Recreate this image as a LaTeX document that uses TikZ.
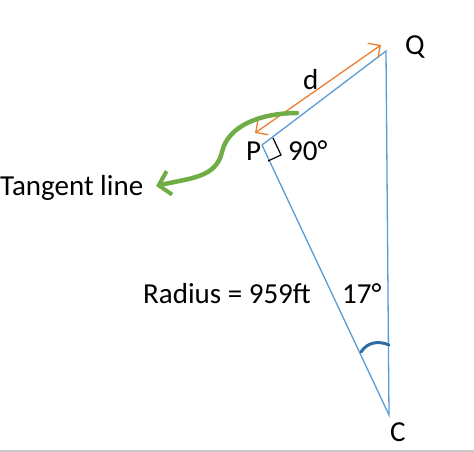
\documentclass[tikz,border=0pt]{standalone}
\usepackage{fontspec}
\setmainfont{Carlito}
\usetikzlibrary{arrows.meta}
\definecolor{tblue}{HTML}{5B9BD5}
\definecolor{torange}{HTML}{ED7D31}
\definecolor{tgreen}{HTML}{70AD47}
\definecolor{tdark}{HTML}{2E6CA4}
\definecolor{tgray}{HTML}{C8C8C8}
\tikzset{
  lbl/.style={inner sep=0pt, anchor=base west, font=\fontsize{29}{33}\selectfont},
  side/.style={draw=tblue, line width=1.3pt},
  dist/.style={draw=torange, line width=1.3pt, {Straight Barb[length=9pt,width=18pt]}-{Straight Barb[length=9pt,width=18pt]}},
  tangent/.style={draw=tgreen, line width=4.5pt, line cap=round, -{Straight Barb[length=11pt,width=24pt,line width=4pt]}},
  anglemark/.style={draw=tdark, line width=3pt, line cap=round},
  rightmark/.style={draw=black, line width=1.2pt}
}
\begin{document}
\begin{tikzpicture}[x=1pt,y=-1pt]
\useasboundingbox (0,0) rectangle (474,452);
\fill[tgray] (0,449.5) rectangle (474,452);
% vertices
\coordinate (P) at (262,145);
\coordinate (Q) at (386,51);
\coordinate (C) at (389,415);
% triangle
\draw[side] (Q) -- (P) -- (C) -- cycle;
% right angle marker
\coordinate (r1) at (273,138);
\coordinate (r2) at (281,155);
\coordinate (r3) at (268,161);
\draw[rightmark] (r1) -- (r2) -- (r3);
% angle at C
\coordinate (k1) at (361,352);
\coordinate (k2) at (389,345);
\draw[anglemark] (k1) .. controls (368,341) and (380,341) .. (k2);
% distance arrow
\coordinate (a1) at (255,133);
\coordinate (a2) at (381,45);
\draw[dist] (a1) -- (a2);
% tangent line curve
\coordinate (g1) at (297,113);
\coordinate (g2) at (156,186);
\draw[tangent] (g1) .. controls (262,113) and (228,125) .. (222,152)
  .. controls (216,178) and (190,178) .. (g2);
% labels
\node[lbl] (lq) at (405,55) {Q};
\node[lbl] (ld) at (303,89) {d};
\node[lbl] (lp) at (246,160) {P};
\node[lbl] (l90) at (288,160) {90°};
\node[lbl] (lt) at (0,195) {Tangent line};
\node[lbl] (lr) at (143,303) {Radius = 959ft};
\node[lbl] (l17) at (342,303) {17°};
\node[lbl] (lc) at (390,441) {C};
\end{tikzpicture}
\end{document}
